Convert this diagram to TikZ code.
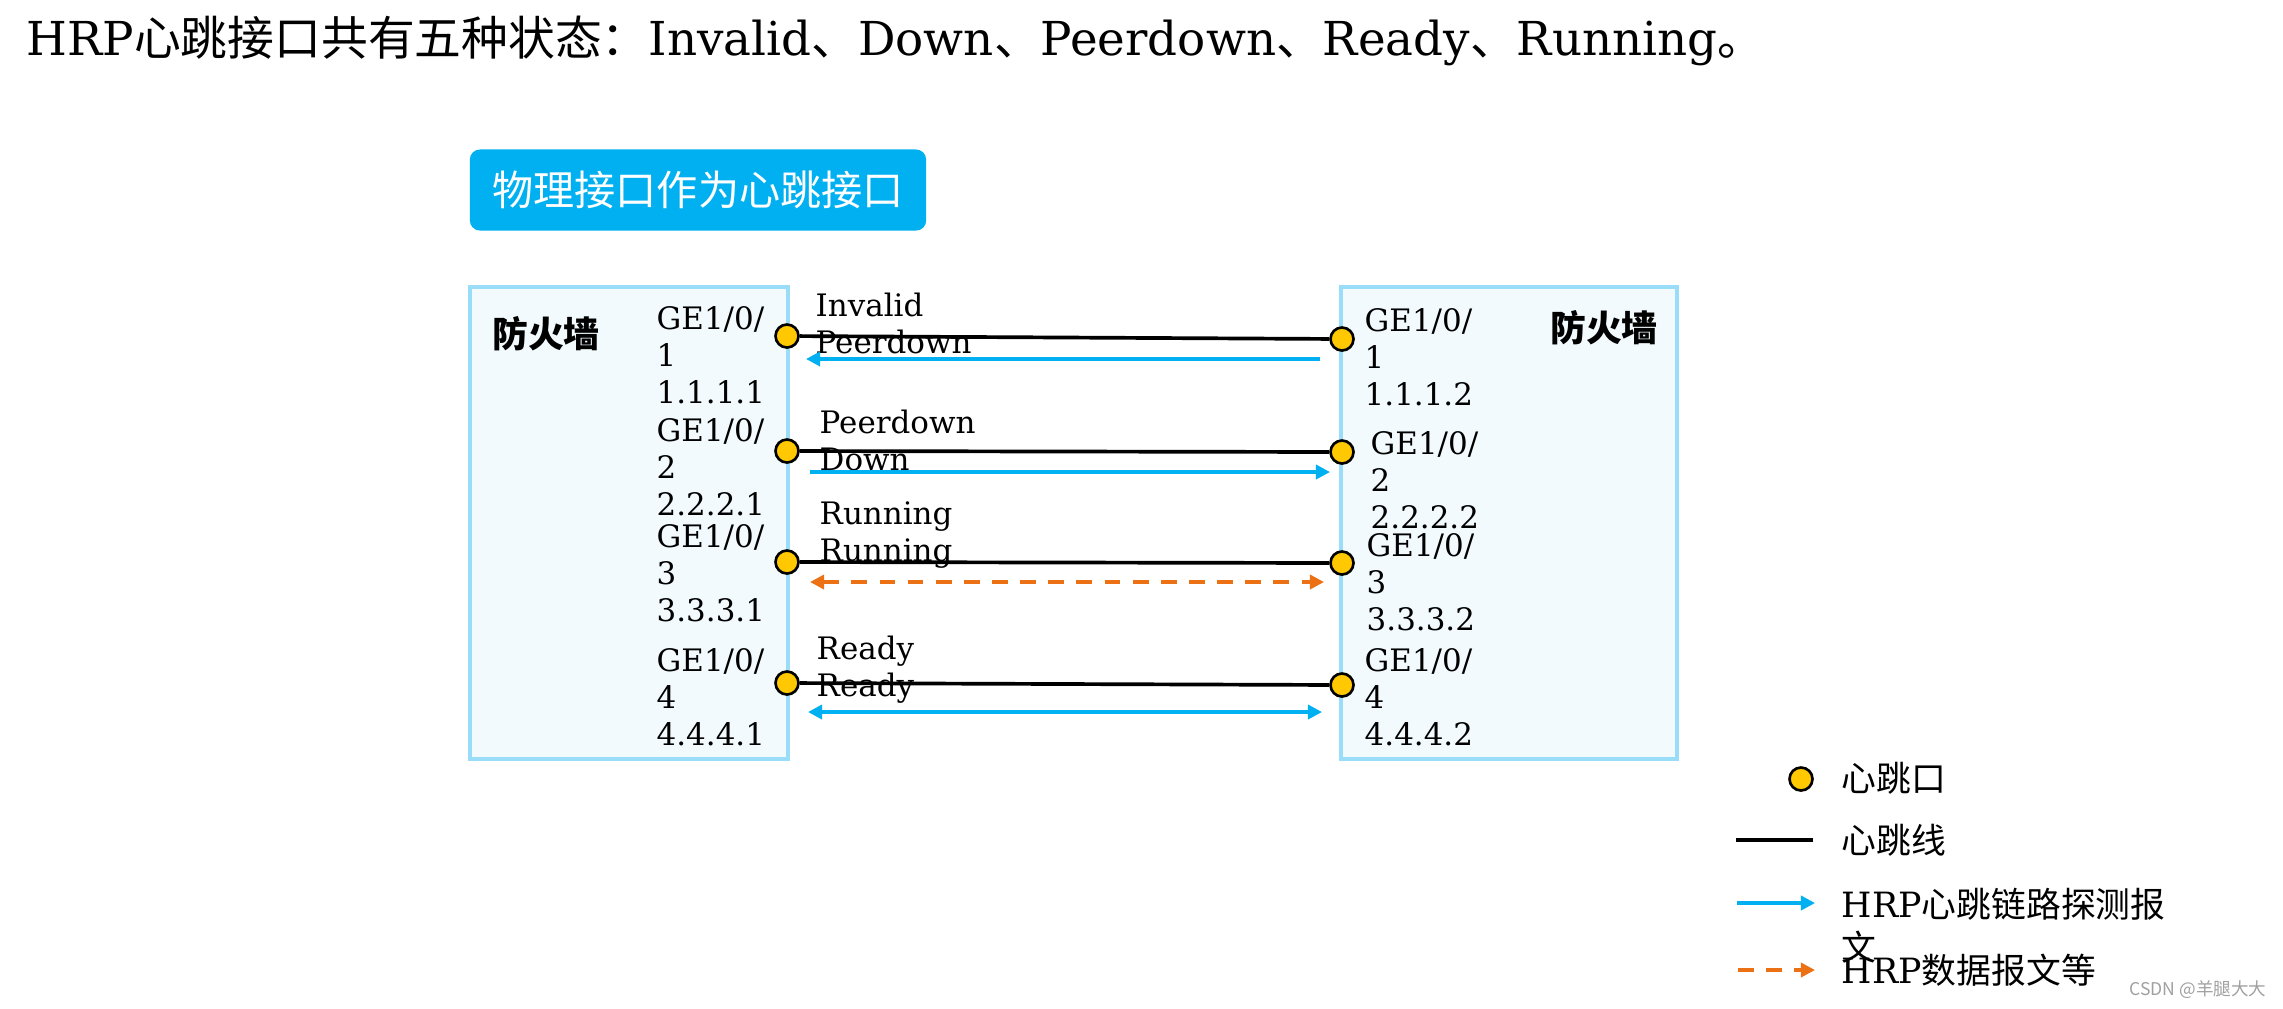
\documentclass[tikz,border=0pt]{standalone}
\usepackage{fontspec}
\setmainfont{DejaVu Serif}
\newfontfamily\cjk{Noto Sans CJK SC}
\usetikzlibrary{arrows.meta}

\definecolor{hrpblue}{HTML}{00B0F0}
\definecolor{fwedge}{HTML}{9ADDF8}
\definecolor{fwfill}{HTML}{F2FAFD}
\definecolor{portyel}{HTML}{FFC800}
\definecolor{dataorg}{HTML}{EC7014}
\definecolor{markgray}{HTML}{A0A0A0}

\newcommand\titlefont{\fontsize{13.3}{15}\selectfont}
\newcommand\portfont{\fontsize{8.8}{10.5}\selectfont}
\newcommand\legfont{\fontsize{9.9}{12.2}\selectfont}

\tikzset{
  fwbox/.style={draw=fwedge, fill=fwfill, line width=1.1pt, inner sep=0pt},
  fwname/.style={inner sep=0pt, font=\cjk\bfseries\fontsize{10.2}{12}\selectfont},
  tagbox/.style={fill=hrpblue, rounded corners=0.1cm, text=white, inner sep=0pt,
    minimum width=4.56cm, minimum height=0.81cm, font=\cjk\fontsize{11.7}{14}\selectfont},
  port/.style={circle, draw=black, fill=portyel, line width=0.75pt, minimum size=2.3mm, inner sep=0pt},
  portlbl/.style={anchor=west, align=left, inner sep=0pt, font=\portfont},
  hbline/.style={line width=1.05pt, black},
  probe/.style={line width=0.95pt, hrpblue},
  data/.style={line width=0.95pt, dataorg, dash pattern=on 4.5pt off 3.5pt},
  legtext/.style={anchor=west, align=left, inner sep=0pt, font=\legfont}
}

\begin{document}
\begin{tikzpicture}[x=0.01cm, y=-0.01cm, >={Triangle[length=4pt,width=4pt]}]
  \useasboundingbox (0,0) rectangle (2283,1008);
  % title line
  \node[anchor=base west, inner sep=0pt, font=\titlefont] (title) at (26,55)
    {HRP{\cjk 心跳接口共有五种状态：}Invalid{\cjk 、}Down{\cjk 、}Peerdown{\cjk 、}Ready{\cjk 、}Running{\cjk 。}};
  \node[tagbox] (tag) at (698,190) {物理接口作为心跳接口};

  % the two firewalls
  \node[fwbox, minimum width=3.18cm, minimum height=4.72cm] (fwL) at (629,523) {};
  \node[fwbox, minimum width=3.36cm, minimum height=4.72cm] (fwR) at (1509,523) {};
  \node[fwname] (nameL) at (546,334) {防火墙};
  \node[fwname] (nameR) at (1604,328) {防火墙};

  % heartbeat ports and lines
  \foreach \i/\ly/\ry in {1/336/339, 2/451/452, 3/562/563, 4/683/685} {
    \node[port] (L\i) at (787,\ly) {};
    \node[port] (R\i) at (1342,\ry) {};
    \draw[hbline] (L\i) -- (R\i);
  }

  % interface names
  \node[portlbl] (gL1) at (656,355) {GE1/0/\\1\\1.1.1.1};
  \node[portlbl] (gL2) at (656,467) {GE1/0/\\2\\2.2.2.1};
  \node[portlbl] (gL3) at (656,573) {GE1/0/\\3\\3.3.3.1};
  \node[portlbl] (gL4) at (656,697) {GE1/0/\\4\\4.4.4.1};
  \node[portlbl] (gR1) at (1364,357) {GE1/0/\\1\\1.1.1.2};
  \node[portlbl] (gR2) at (1370,480) {GE1/0/\\2\\2.2.2.2};
  \node[portlbl] (gR3) at (1366,582) {GE1/0/\\3\\3.3.3.2};
  \node[portlbl] (gR4) at (1364,697) {GE1/0/\\4\\4.4.4.2};

  % states on each link
  \node[portlbl] (st1) at (815,323) {Invalid\\Peerdown};
  \node[portlbl] (st2) at (819,440) {Peerdown\\Down};
  \node[portlbl] (st3) at (819,535) {Running\\Running};
  \node[portlbl] (st4) at (816,670) {Ready\\Ready};

  % probe and data packets
  \coordinate (p1a) at (806,359);  \coordinate (p1b) at (1320,359);
  \coordinate (p2a) at (810,472);  \coordinate (p2b) at (1330,472);
  \coordinate (p3a) at (810,582);  \coordinate (p3b) at (1324,582);
  \coordinate (p4a) at (808,712);  \coordinate (p4b) at (1322,712);
  \draw[probe,<-] (p1a) -- (p1b);
  \draw[probe,->] (p2a) -- (p2b);
  \draw[data,<->] (p3a) -- (p3b);
  \draw[probe,<->] (p4a) -- (p4b);

  % legend
  \node[port] (lgPort) at (1801,779) {};
  \node[legtext] (lg1) at (1841,778) {\cjk 心跳口};
  \coordinate (lg2a) at (1736,840);  \coordinate (lg2b) at (1813,840);
  \draw[hbline] (lg2a) -- (lg2b);
  \node[legtext] (lg2) at (1841,840) {\cjk 心跳线};
  \coordinate (lg3a) at (1737,903);  \coordinate (lg3b) at (1815,903);
  \draw[probe,->] (lg3a) -- (lg3b);
  \node[legtext] (lg3) at (1841,926) {HRP{\cjk 心跳链路探测报}\\{\cjk 文}};
  \coordinate (lg4a) at (1738,970);  \coordinate (lg4b) at (1815,970);
  \draw[data,->] (lg4a) -- (lg4b);
  \node[legtext] (lg4) at (1841,970) {HRP{\cjk 数据报文等}};

  \node[anchor=east, inner sep=0pt, text=markgray, font=\cjk\fontsize{5}{6}\selectfont] (mark) at (2267,990) {CSDN @羊腿大大};
\end{tikzpicture}
\end{document}
